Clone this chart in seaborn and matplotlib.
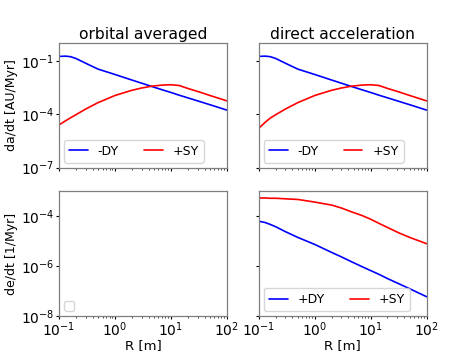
import warnings
import numpy as np
import pandas as pd
import matplotlib
matplotlib.use("Agg")
import matplotlib.pyplot as plt
import seaborn as sns

warnings.filterwarnings("ignore")

# ---------------- data ----------------
R = [0.1, 0.13, 0.16, 0.2, 0.3, 0.5, 1, 2, 3, 4.5, 7, 10, 14, 20, 32, 50, 100]

# da/dt [AU/Myr]
dadt_orb_DY = [0.175, 0.182, 0.170, 0.135, 0.0724, 0.0339, 0.0170, 8.3e-3, 5.5e-3,
               3.63e-3, 2.34e-3, 1.66e-3, 1.17e-3, 8.3e-4, 5.25e-4, 3.39e-4, 1.70e-4]
dadt_orb_SY = [2.5e-5, 4.2e-5, 6.2e-5, 9.3e-5, 1.95e-4, 4.47e-4, 1.12e-3, 2.19e-3, 2.95e-3,
               3.72e-3, 4.3e-3, 4.5e-3, 4.1e-3, 2.8e-3, 1.78e-3, 1.12e-3, 5.6e-4]
dadt_dir_DY = dadt_orb_DY
dadt_dir_SY = [1.6e-5, 3.5e-5, 6.0e-5, 9.3e-5, 1.95e-4, 4.47e-4, 1.12e-3, 2.19e-3, 2.95e-3,
               3.72e-3, 4.3e-3, 4.5e-3, 4.1e-3, 2.8e-3, 1.78e-3, 1.12e-3, 5.6e-4]

# de/dt [1/Myr]
dedt_dir_DY = [6.3e-5, 5.6e-5, 4.7e-5, 3.8e-5, 2.4e-5, 1.41e-5, 7.4e-6, 3.55e-6, 2.34e-6,
               1.51e-6, 9.5e-7, 6.6e-7, 4.7e-7, 3.16e-7, 1.95e-7, 1.23e-7, 5.9e-8]
dedt_dir_SY = [5.4e-4, 5.4e-4, 5.25e-4, 5.25e-4, 5.0e-4, 4.7e-4, 3.7e-4, 2.8e-4, 2.14e-4,
               1.51e-4, 1.07e-4, 7.6e-5, 5.2e-5, 3.55e-5, 2.14e-5, 1.41e-5, 7.9e-6]

titles = ["orbital averaged", "direct acceleration"]
ylabels = ["da/dt [AU/Myr]", "de/dt [1/Myr]"]
xlabel = "R [m]"

# ---------------- style ----------------
sns.set_style("white", {
    "axes.edgecolor": "#7f7f7f",
    "axes.labelcolor": "black",
    "text.color": "black",
    "xtick.bottom": True,
    "ytick.left": True,
    "xtick.color": "black",
    "ytick.color": "black",
})
plt.rcParams["font.family"] = ["DejaVu Sans"]
plt.rcParams["font.size"] = 10
plt.rcParams["axes.linewidth"] = 0.9

fig, axes = plt.subplots(2, 2, figsize=(4.74, 3.55), dpi=100,
                         sharex=True, sharey="row")
fig.subplots_adjust(left=0.1245, right=0.9, top=0.879, bottom=0.11,
                    wspace=0.19, hspace=0.19)

pal = {"-DY": "blue", "+DY": "blue", "+SY": "red"}

def long(series):
    frames = []
    for name, vals in series:
        frames.append(pd.DataFrame({"R": R, "v": vals, "s": name}))
    return pd.concat(frames, ignore_index=True)

panels = {
    (0, 0): [("-DY", dadt_orb_DY), ("+SY", dadt_orb_SY)],
    (0, 1): [("-DY", dadt_dir_DY), ("+SY", dadt_dir_SY)],
    (1, 1): [("+DY", dedt_dir_DY), ("+SY", dedt_dir_SY)],
}

for (i, j), series in panels.items():
    ax = axes[i, j]
    df = long(series)
    sns.lineplot(data=df, x="R", y="v", hue="s", palette=pal, ax=ax,
                 linewidth=1.2, legend=False, sort=False)
    handles = [plt.Line2D([], [], color=pal[n], lw=1.2) for n, _ in series]
    ax.legend(handles, [n for n, _ in series], ncol=2, loc="lower left",
              fontsize=9, framealpha=0.8, handlelength=1.5,
              borderaxespad=0.4)

axes[1, 0].legend(loc="lower left", fontsize=9, borderaxespad=0.4)

for ax in axes.flat:
    ax.set_xscale("log")
    ax.set_yscale("log")
    ax.set_xlim(0.1, 100)
    ax.set_xlabel("")
    ax.set_ylabel("")
    ax.tick_params(labelsize=10, length=2, width=0.8, pad=1.5,
                   colors="black")
    ax.tick_params(which="minor", length=1.2, width=0.5)

axes[0, 0].set_ylim(1e-7, 1)
axes[1, 0].set_ylim(1e-8, 1e-3)
axes[0, 0].set_yticks([1e-7, 1e-4, 1e-1])
axes[1, 0].set_yticks([1e-8, 1e-6, 1e-4])
axes[0, 0].yaxis.set_minor_locator(matplotlib.ticker.NullLocator())
axes[1, 0].yaxis.set_minor_locator(matplotlib.ticker.NullLocator())

for j in range(2):
    axes[0, j].set_title(titles[j], fontsize=11.2, pad=3, color="black")
    axes[1, j].set_xlabel(xlabel, fontsize=9.5, labelpad=0, color="black")
    axes[0, j].tick_params(labelbottom=False)
axes[0, 0].set_ylabel(ylabels[0], fontsize=9, labelpad=2, color="black")
axes[1, 0].set_ylabel(ylabels[1], fontsize=9, labelpad=2, color="black")

fig.savefig("out.png", dpi=100)
